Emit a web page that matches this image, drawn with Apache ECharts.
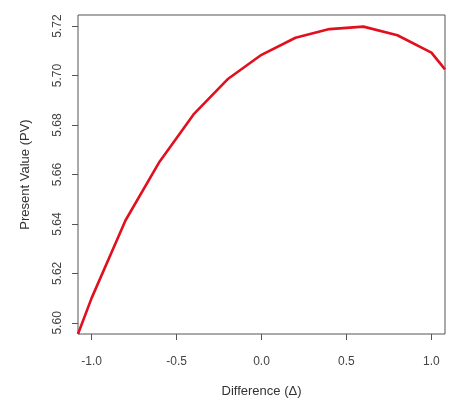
<!DOCTYPE html>
<html><head><meta charset="utf-8">
<script src="https://cdn.jsdelivr.net/npm/echarts@6/dist/echarts.min.js"></script>
<style>html,body{margin:0;padding:0;background:#fff}#c{width:474px;height:414px}</style>
</head><body><div id="c"></div>
<script>
const diffs = [-1.08, -1.0, -0.8, -0.6, -0.4, -0.2, 0.0, 0.2, 0.4, 0.6, 0.8, 1.0, 1.08];
const pv = [5.5955, 5.610, 5.6415, 5.6652, 5.6843, 5.6985, 5.7084, 5.7153, 5.7188, 5.7198, 5.7163, 5.7093, 5.7025];
const xTicks = [-1.0, -0.5, 0.0, 0.5, 1.0];
const yTicks = [5.60, 5.62, 5.64, 5.66, 5.68, 5.70, 5.72];
const xTitle = 'Difference (Δ)';
const yTitle = 'Present Value (PV)';

const chart = echarts.init(document.getElementById('c'));
const font = 'Liberation Sans, Arial, sans-serif';
chart.setOption({
  animation: false,
  backgroundColor: '#fff',
  grid: {left: 78, right: 29, top: 15, bottom: 80, show: true, borderColor: '#555', borderWidth: 1, backgroundColor: '#fff'},
  xAxis: {
    type: 'value', min: -1.08, max: 1.08,
    name: xTitle, nameLocation: 'middle', nameGap: 51,
    nameTextStyle: {fontFamily: font, fontSize: 13, color: '#333'},
    axisLine: {show: false, onZero: false},
    splitLine: {show: false},
    axisTick: {show: true, length: 6, customValues: xTicks, lineStyle: {color: '#555'}},
    axisLabel: {customValues: xTicks, margin: 22, fontFamily: font, fontSize: 12, color: '#444',
      formatter: v => v.toFixed(1)}
  },
  yAxis: {
    type: 'value', min: 5.5955, max: 5.7245,
    name: yTitle, nameLocation: 'middle', nameGap: 46, nameRotate: 90,
    nameTextStyle: {fontFamily: font, fontSize: 13, color: '#333'},
    axisLine: {show: false, onZero: false},
    splitLine: {show: false},
    axisTick: {show: true, length: 6, customValues: yTicks, lineStyle: {color: '#555'}},
    axisLabel: {customValues: yTicks, rotate: 90, margin: 14, fontFamily: font, fontSize: 12, color: '#444',
      formatter: v => v.toFixed(2)}
  },
  series: [{
    type: 'line', data: diffs.map((d, i) => [d, pv[i]]),
    showSymbol: false, clip: true,
    lineStyle: {color: '#e0101e', width: 2.6}
  }]
});
</script></body></html>
